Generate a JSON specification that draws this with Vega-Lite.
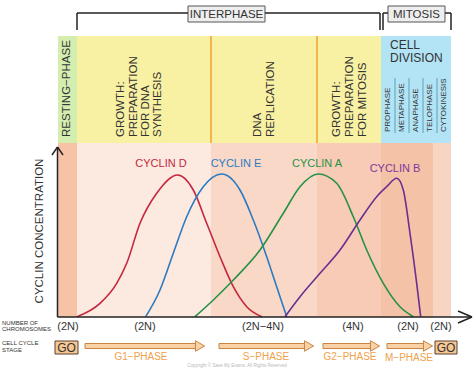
{
  "$schema": "https://vega.github.io/schema/vega-lite/v6.json",
  "width": 474,
  "height": 370,
  "autosize": {"type": "fit", "contains": "padding"},
  "padding": 0,
  "background": "white",
  "config": {"view": {"stroke": null}, "text": {"font": "Liberation Sans", "color": "#333333"}},
  "datasets": {
    "bands": [
      {"band": "Resting header", "x": 58, "x2": 77, "y": 36, "y2": 143},
      {"band": "Interphase header", "x": 77, "x2": 381, "y": 36, "y2": 143},
      {"band": "Mitosis header", "x": 381, "x2": 451, "y": 36, "y2": 143},
      {"band": "G0", "x": 58, "x2": 77, "y": 143, "y2": 317},
      {"band": "G1", "x": 77, "x2": 211, "y": 143, "y2": 317},
      {"band": "S", "x": 211, "x2": 317, "y": 143, "y2": 317},
      {"band": "G2", "x": 317, "x2": 381, "y": 143, "y2": 317},
      {"band": "M", "x": 381, "x2": 433, "y": 143, "y2": 317},
      {"band": "G0 again", "x": 433, "x2": 451, "y": 143, "y2": 317}
    ],
    "dividers": [
      {"x": 211, "x2": 211, "y": 36, "y2": 143},
      {"x": 317, "x2": 317, "y": 36, "y2": 143}
    ],
    "separators": [
      {"x": 395, "x2": 395, "y": 78, "y2": 133},
      {"x": 409, "x2": 409, "y": 78, "y2": 133},
      {"x": 423, "x2": 423, "y": 78, "y2": 133},
      {"x": 437, "x2": 437, "y": 78, "y2": 133}
    ],
    "blackLines": [
      {"x": 77, "x2": 188, "y": 13, "y2": 13},
      {"x": 265, "x2": 380, "y": 13, "y2": 13},
      {"x": 77, "x2": 77, "y": 13, "y2": 30},
      {"x": 380, "x2": 380, "y": 13, "y2": 30},
      {"x": 383, "x2": 388, "y": 13, "y2": 13},
      {"x": 445, "x2": 451, "y": 13, "y2": 13},
      {"x": 383, "x2": 383, "y": 13, "y2": 30},
      {"x": 451, "x2": 451, "y": 13, "y2": 30},
      {"x": 57.5, "x2": 57.5, "y": 147, "y2": 317},
      {"x": 52, "x2": 57.5, "y": 155, "y2": 147},
      {"x": 63, "x2": 57.5, "y": 155, "y2": 147},
      {"x": 57.5, "x2": 472, "y": 317, "y2": 317},
      {"x": 458, "x2": 472, "y": 311, "y2": 317},
      {"x": 458, "x2": 472, "y": 323, "y2": 317}
    ],
    "labelBoxes": [
      {"x": 188, "x2": 265, "y": 6, "y2": 22},
      {"x": 388, "x2": 445, "y": 6, "y2": 22}
    ],
    "centerText": [
      {"label": "INTERPHASE", "x": 226.5, "y": 14.5},
      {"label": "MITOSIS", "x": 416.5, "y": 14.5},
      {"label": "CELL", "x": 390, "y": 45, "left": true},
      {"label": "DIVISION", "x": 390, "y": 58, "left": true}
    ],
    "headerText": [
      {"label": "RESTING−PHASE", "x": 67, "y": 137},
      {"label": "GROWTH:", "x": 121, "y": 137},
      {"label": "PREPARATION", "x": 133.5, "y": 137},
      {"label": "FOR  DNA", "x": 146, "y": 137},
      {"label": "SYNTHESIS", "x": 158, "y": 137},
      {"label": "DNA", "x": 258, "y": 137},
      {"label": "REPLICATION", "x": 271, "y": 137},
      {"label": "GROWTH:", "x": 337, "y": 137},
      {"label": "PREPARATION", "x": 350, "y": 137},
      {"label": "FOR  MITOSIS", "x": 363, "y": 137}
    ],
    "subphaseText": [
      {"label": "PROPHASE", "x": 388, "y": 132},
      {"label": "METAPHASE", "x": 402, "y": 132},
      {"label": "ANAPHASE", "x": 416, "y": 132},
      {"label": "TELOPHASE", "x": 430, "y": 132},
      {"label": "CYTOKINESIS", "x": 444, "y": 132}
    ],
    "curves": [
      {"cyclin": "D", "x": 77, "y": 316.7},
      {"cyclin": "D", "x": 100, "y": 303.3},
      {"cyclin": "D", "x": 116.7, "y": 283.3},
      {"cyclin": "D", "x": 126.7, "y": 263.3},
      {"cyclin": "D", "x": 140, "y": 223.3},
      {"cyclin": "D", "x": 156.7, "y": 193.3},
      {"cyclin": "D", "x": 177.7, "y": 175},
      {"cyclin": "D", "x": 193.3, "y": 190},
      {"cyclin": "D", "x": 206.7, "y": 223.3},
      {"cyclin": "D", "x": 220, "y": 256.7},
      {"cyclin": "D", "x": 233.3, "y": 286.7},
      {"cyclin": "D", "x": 246.7, "y": 306.7},
      {"cyclin": "D", "x": 261.7, "y": 316.7},
      {"cyclin": "E", "x": 145.7, "y": 316.7},
      {"cyclin": "E", "x": 160, "y": 290},
      {"cyclin": "E", "x": 173.3, "y": 253.3},
      {"cyclin": "E", "x": 186.7, "y": 216.7},
      {"cyclin": "E", "x": 203.3, "y": 186.7},
      {"cyclin": "E", "x": 221.7, "y": 174},
      {"cyclin": "E", "x": 240, "y": 190},
      {"cyclin": "E", "x": 253.3, "y": 220},
      {"cyclin": "E", "x": 266.7, "y": 256.7},
      {"cyclin": "E", "x": 276.7, "y": 286.7},
      {"cyclin": "E", "x": 286.7, "y": 316.7},
      {"cyclin": "A", "x": 195, "y": 316.7},
      {"cyclin": "A", "x": 213.3, "y": 300},
      {"cyclin": "A", "x": 233.3, "y": 280},
      {"cyclin": "A", "x": 260, "y": 250},
      {"cyclin": "A", "x": 283.3, "y": 213.3},
      {"cyclin": "A", "x": 300, "y": 186.7},
      {"cyclin": "A", "x": 318.3, "y": 174},
      {"cyclin": "A", "x": 336.7, "y": 183.3},
      {"cyclin": "A", "x": 353.3, "y": 216.7},
      {"cyclin": "A", "x": 366.7, "y": 250},
      {"cyclin": "A", "x": 383.3, "y": 283.3},
      {"cyclin": "A", "x": 400, "y": 306.7},
      {"cyclin": "A", "x": 413.3, "y": 316.7},
      {"cyclin": "B", "x": 285, "y": 316.7},
      {"cyclin": "B", "x": 300, "y": 296.7},
      {"cyclin": "B", "x": 320, "y": 273.3},
      {"cyclin": "B", "x": 340, "y": 250},
      {"cyclin": "B", "x": 360, "y": 220},
      {"cyclin": "B", "x": 376.7, "y": 196.7},
      {"cyclin": "B", "x": 386.7, "y": 186.7},
      {"cyclin": "B", "x": 396.7, "y": 178.3},
      {"cyclin": "B", "x": 403.3, "y": 190},
      {"cyclin": "B", "x": 410, "y": 233.3},
      {"cyclin": "B", "x": 416.7, "y": 283.3},
      {"cyclin": "B", "x": 420.7, "y": 316.7}
    ],
    "curveLabels": [
      {"cyclin": "D", "label": "CYCLIN  D", "x": 161, "y": 164},
      {"cyclin": "E", "label": "CYCLIN  E", "x": 236, "y": 164},
      {"cyclin": "A", "label": "CYCLIN  A", "x": 317, "y": 164},
      {"cyclin": "B", "label": "CYCLIN  B", "x": 395, "y": 169}
    ],
    "axisTitle": [{"label": "CYCLIN  CONCENTRATION", "x": 40, "y": 231}],
    "chromosomes": [
      {"label": "(2N)", "x": 68, "y": 327},
      {"label": "(2N)", "x": 145, "y": 327},
      {"label": "(2N−4N)", "x": 263, "y": 327},
      {"label": "(4N)", "x": 353, "y": 327},
      {"label": "(2N)", "x": 408, "y": 327},
      {"label": "(2N)", "x": 441, "y": 327}
    ],
    "sideText": [
      {"label": "NUMBER  OF", "x": 2, "y": 323},
      {"label": "CHROMOSOMES", "x": 2, "y": 329},
      {"label": "CELL  CYCLE", "x": 2, "y": 343},
      {"label": "STAGE", "x": 2, "y": 349.5}
    ],
    "goBoxes": [
      {"x": 55, "x2": 78, "y": 341, "y2": 354},
      {"x": 435, "x2": 457, "y": 341, "y2": 354}
    ],
    "goLabels": [
      {"label": "GO", "x": 66.5, "y": 348},
      {"label": "GO", "x": 446, "y": 348}
    ],
    "shafts": [
      {"phase": "G1", "x": 85, "x2": 198, "y": 343.5, "y2": 348.5},
      {"phase": "S", "x": 219, "x2": 307, "y": 343.5, "y2": 348.5},
      {"phase": "G2", "x": 323, "x2": 373, "y": 343.5, "y2": 348.5},
      {"phase": "M", "x": 387, "x2": 426, "y": 343.5, "y2": 348.5}
    ],
    "heads": [
      {"phase": "G1", "x": 200, "y": 346},
      {"phase": "S", "x": 309, "y": 346},
      {"phase": "G2", "x": 375, "y": 346},
      {"phase": "M", "x": 428, "y": 346}
    ],
    "phaseText": [
      {"label": "G1−PHASE", "x": 141, "y": 357},
      {"label": "S−PHASE", "x": 266, "y": 357},
      {"label": "G2−PHASE", "x": 350, "y": 357},
      {"label": "M−PHASE", "x": 409, "y": 358}
    ],
    "copyright": [{"label": "Copyright © Save My Exams. All Rights Reserved", "x": 237, "y": 366}]
  },
  "encoding": {
    "x": {"field": "x", "type": "quantitative", "scale": {"domain": [0, 474], "nice": false, "zero": false}, "axis": null},
    "y": {"field": "y", "type": "quantitative", "scale": {"domain": [0, 370], "nice": false, "zero": false, "reverse": true}, "axis": null}
  },
  "layer": [
    {
      "data": {"name": "bands"},
      "mark": {"type": "rect"},
      "encoding": {
        "x2": {"field": "x2"},
        "y2": {"field": "y2"},
        "color": {
          "field": "band", "type": "nominal", "legend": null,
          "scale": {
            "domain": ["Resting header", "Interphase header", "Mitosis header", "G0", "G1", "S", "G2", "M", "G0 again"],
            "range": ["#d4eeb0", "#f8f0a2", "#b2e4f6", "#f6c3a7", "#fce9df", "#f9d8c8", "#f7cbb5", "#f4c2a6", "#f8d5c3"]
          }
        }
      }
    },
    {
      "data": {"name": "dividers"},
      "mark": {"type": "rule", "color": "#f0a030", "strokeWidth": 1.5},
      "encoding": {"x2": {"field": "x2"}, "y2": {"field": "y2"}}
    },
    {
      "data": {"name": "separators"},
      "mark": {"type": "rule", "color": "#4d8ea6", "strokeWidth": 0.8},
      "encoding": {"x2": {"field": "x2"}, "y2": {"field": "y2"}}
    },
    {
      "data": {"name": "curves"},
      "mark": {"type": "line", "interpolate": "monotone", "strokeWidth": 1.6},
      "encoding": {
        "color": {"field": "cyclin", "type": "nominal", "legend": null,
          "scale": {"domain": ["D", "E", "A", "B"], "range": ["#c3283f", "#2c7bc2", "#279245", "#6b2f91"]}},
        "detail": {"field": "cyclin"}
      }
    },
    {
      "data": {"name": "curveLabels"},
      "mark": {"type": "text", "fontSize": 11, "align": "center", "baseline": "middle"},
      "encoding": {
        "text": {"field": "label"},
        "color": {"field": "cyclin", "type": "nominal", "legend": null,
          "scale": {"domain": ["D", "E", "A", "B"], "range": ["#c3283f", "#2c7bc2", "#279245", "#7a3a9e"]}}
      }
    },
    {
      "data": {"name": "labelBoxes"},
      "mark": {"type": "rect", "fill": "#eeeeee", "stroke": "#555555", "strokeWidth": 1},
      "encoding": {"x2": {"field": "x2"}, "y2": {"field": "y2"}}
    },
    {
      "data": {"name": "blackLines"},
      "mark": {"type": "rule", "color": "#222222", "strokeWidth": 1.5},
      "encoding": {"x2": {"field": "x2"}, "y2": {"field": "y2"}}
    },
    {
      "data": {"name": "centerText"},
      "transform": [{"filter": "!datum.left"}],
      "mark": {"type": "text", "fontSize": 11.5, "align": "center", "baseline": "middle"},
      "encoding": {"text": {"field": "label"}}
    },
    {
      "data": {"name": "centerText"},
      "transform": [{"filter": "datum.left"}],
      "mark": {"type": "text", "fontSize": 12, "align": "left", "baseline": "middle"},
      "encoding": {"text": {"field": "label"}}
    },
    {
      "data": {"name": "headerText"},
      "mark": {"type": "text", "fontSize": 11.5, "angle": 270, "align": "left", "baseline": "middle"},
      "encoding": {"text": {"field": "label"}}
    },
    {
      "data": {"name": "subphaseText"},
      "mark": {"type": "text", "fontSize": 8, "angle": 270, "align": "left", "baseline": "middle"},
      "encoding": {"text": {"field": "label"}}
    },
    {
      "data": {"name": "axisTitle"},
      "mark": {"type": "text", "fontSize": 11.5, "angle": 270, "align": "center", "baseline": "middle"},
      "encoding": {"text": {"field": "label"}}
    },
    {
      "data": {"name": "chromosomes"},
      "mark": {"type": "text", "fontSize": 11, "align": "center", "baseline": "middle"},
      "encoding": {"text": {"field": "label"}}
    },
    {
      "data": {"name": "sideText"},
      "mark": {"type": "text", "fontSize": 6, "align": "left", "baseline": "middle"},
      "encoding": {"text": {"field": "label"}}
    },
    {
      "data": {"name": "goBoxes"},
      "mark": {"type": "rect", "fill": "#f8c894", "stroke": "#5a4030", "strokeWidth": 1},
      "encoding": {"x2": {"field": "x2"}, "y2": {"field": "y2"}}
    },
    {
      "data": {"name": "goLabels"},
      "mark": {"type": "text", "fontSize": 12, "align": "center", "baseline": "middle"},
      "encoding": {"text": {"field": "label"}}
    },
    {
      "data": {"name": "shafts"},
      "mark": {"type": "rect", "fill": "#f9d2a6", "stroke": "#c98345", "strokeWidth": 1},
      "encoding": {"x2": {"field": "x2"}, "y2": {"field": "y2"}}
    },
    {
      "data": {"name": "heads"},
      "mark": {"type": "point", "shape": "triangle-right", "filled": true, "fill": "#f9d2a6", "stroke": "#c98345", "strokeWidth": 1, "size": 110, "opacity": 1}
    },
    {
      "data": {"name": "phaseText"},
      "mark": {"type": "text", "fontSize": 10, "align": "center", "baseline": "middle", "color": "#f0a14c"},
      "encoding": {"text": {"field": "label"}}
    },
    {
      "data": {"name": "copyright"},
      "mark": {"type": "text", "fontSize": 4.5, "align": "center", "baseline": "middle", "color": "#b8b8b8"},
      "encoding": {"text": {"field": "label"}}
    }
  ],
  "resolve": {"scale": {"color": "independent"}}
}
